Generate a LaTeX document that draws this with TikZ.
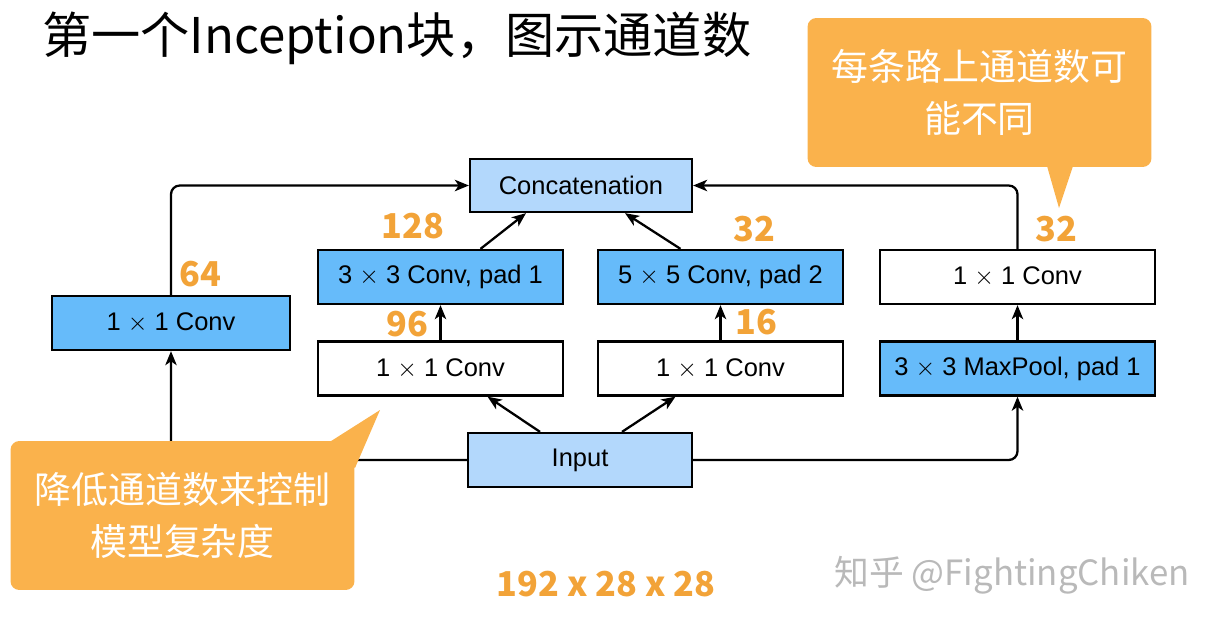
\documentclass[tikz,border=0pt]{standalone}
\usepackage{fontspec}
\setmainfont{Liberation Sans}
\newfontfamily\cjkfont{Noto Sans CJK SC}
\usetikzlibrary{arrows.meta,calc}

\definecolor{convblue}{RGB}{102,187,250}
\definecolor{lightblue}{RGB}{179,216,252}
\definecolor{numorange}{RGB}{242,163,56}
\definecolor{noteorange}{RGB}{250,178,76}

\begin{document}
\begin{tikzpicture}[
  x=0.02cm, y=-0.02cm,
  box/.style={draw, line width=1.3pt, inner sep=0pt, minimum height=1.08cm,
    font=\fontsize{14.5}{17}\selectfont},
  num/.style={text=numorange, font=\cjkfont\bfseries\fontsize{19.5}{22}\selectfont},
  note/.style={fill=noteorange, rounded corners=5pt, text=white, align=center,
    inner sep=0pt, minimum width=6.88cm, minimum height=2.98cm,
    font=\cjkfont\fontsize{21}{29.5}\selectfont},
  arr/.style={-{Stealth[length=8pt,width=6.5pt,inset=2.2pt]}, line width=1.3pt, rounded corners=5pt}
]
\useasboundingbox (0,0) rectangle (1228,627);

\node[anchor=west, font=\cjkfont\fontsize{28}{32}\selectfont] (title) at (36,38)
  {第一个Inception块，图示通道数};

% the block
\node[box, fill=lightblue, minimum width=4.44cm, minimum height=1.06cm] (cat) at (581,185.5) {Concatenation};
\node[box, fill=convblue, minimum width=4.9cm] (c3) at (440.5,277) {3 $\times$ 3 Conv, pad 1};
\node[box, fill=convblue, minimum width=4.9cm] (c5) at (720.5,277) {5 $\times$ 5 Conv, pad 2};
\node[box, fill=white, minimum width=5.5cm] (pc) at (1017.5,277) {1 $\times$ 1 Conv};
\node[box, fill=convblue, minimum width=4.76cm] (c1) at (171,323) {1 $\times$ 1 Conv};
\node[box, fill=white, minimum width=4.9cm] (r3) at (440.5,368.5) {1 $\times$ 1 Conv};
\node[box, fill=white, minimum width=4.9cm] (r5) at (720.5,368.5) {1 $\times$ 1 Conv};
\node[box, fill=convblue, minimum width=5.5cm] (pool) at (1017.5,368.5) {3 $\times$ 3 MaxPool, pad 1};
\node[box, fill=lightblue, minimum width=4.48cm] (in) at (580,460) {Input};

\draw[arr] (in.west) -| (c1.south);
\draw[arr] (in.east) -| (pool.south);
\draw[arr] ($(in.north)+(-40,0)$) -- ($(r3.south)+(47,0)$);
\draw[arr] ($(in.north)+(42,0)$) -- ($(r5.south)+(-45,0)$);
\draw[arr] (r3) -- (c3);
\draw[arr] (r5) -- (c5);
\draw[arr] (pool) -- (pc);
\draw[arr] ($(c3.north)+(40,0)$) -- ($(cat.south)+(-55,0)$);
\draw[arr] ($(c5.north)+(-40,0)$) -- ($(cat.south)+(44,0)$);
\draw[arr] (c1.north) |- (cat.west);
\draw[arr] (pc.north) |- (cat.east);

% channel counts
\node[num] (n64) at (200,274) {64};
\node[num] (n128) at (413,226) {128};
\node[num] (n96) at (407,324) {96};
\node[num] (n32a) at (754,229) {32};
\node[num] (n16) at (756,322) {16};
\node[num] (n32b) at (1056,229) {32};
\node[num] (dims) at (606,584) {192 x 28 x 28};

% callouts
\node[note] (tipr) at (979.5,92.5) {每条路上通道数可\\能不同};
\fill[noteorange] (1047,166) -- (1059,208) -- (1073,166) -- cycle;
\node[note] (tipl) at (182.5,515.5) {降低通道数来控制\\模型复杂度};
\fill[noteorange] (328,443) -- (380,410) -- (355,468) -- cycle;

\node[text=gray!55, font=\cjkfont\fontsize{19.8}{22}\selectfont] (mark) at (1012,575) {知乎 @FightingChiken};
\end{tikzpicture}
\end{document}
